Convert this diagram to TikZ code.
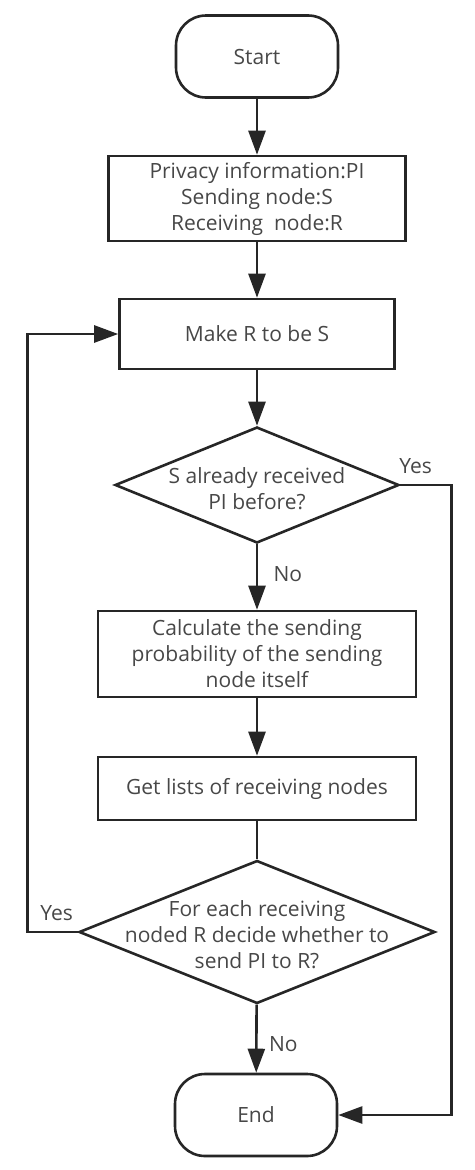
\documentclass[tikz,border=0pt]{standalone}
\usepackage{fontspec}
\setmainfont{Open Sans}
\usetikzlibrary{shapes, positioning, arrows, arrows.meta}

\begin{document}
\begin{tikzpicture}[
          x=1pt, y=-1pt,
          line width=2.6pt,
          every node/.style={font=\fontsize{21}{26}\selectfont, text=black!72},
          terminal/.style={draw=black!85, rounded corners=30pt, minimum width=162pt, minimum height=82pt},
          process/.style={draw=black!85, align=center, inner sep=0pt},
          decision/.style={draw=black!85, diamond, inner sep=0pt},
          flow/.style={draw=black!85, -{Triangle[length=24pt, width=17pt]}}
        ]
        \useasboundingbox (0,0) rectangle (474,1170);
        \node[terminal] (start) at (257,56.5) {Start};
        \node[process, minimum width=297pt, minimum height=85pt] (info) at (257,198.5)
          {Privacy information:PI\\Sending node:S\\Receiving\ \ node:R};
        \node[process, minimum width=275pt, minimum height=70pt] (make) at (257,334) {Make R to be S};
        \node[decision, minimum width=284pt, minimum height=116pt] (check) at (257,485) {};
        \node[align=center] (checktext) at (257,489) {S already received\\PI before?};
        \node[process, minimum width=318pt, minimum height=86pt] (calc) at (257,654)
          {Calculate the sending\\probability of the sending\\node itself};
        \node[process, minimum width=318pt, minimum height=63pt] (lists) at (257,788.5) {Get lists of receiving nodes};
        \node[decision, minimum width=356pt, minimum height=143pt] (decide) at (257,932) {};
        \node[align=center] (decidetext) at (257,935) {For each receiving\\noded R decide whether to\\send PI to R?};
        \node[terminal] (end) at (256,1115) {End};

        \draw[flow] (start) -- (info);
        \draw[flow] (info) -- (make);
        \draw[flow] (make) -- (check);
        \draw[flow] (check) -- node[right=12pt, pos=0.45] {No} (calc);
        \draw[flow] (calc) -- (lists);
        \draw[draw=black!85] (lists) -- (decide);
        \draw[flow] (decide) -- node[right=8pt, pos=0.58] {No} (end);
        \draw[flow] (check.east) -- node[above=7pt, pos=0.3] {Yes} ++(51,0) |- (end.east);
        \draw[flow] (decide.west) -- node[above=7pt, pos=0.42] {Yes} ++(-50,0) |- (make.west);
        \end{tikzpicture}
\end{document}
